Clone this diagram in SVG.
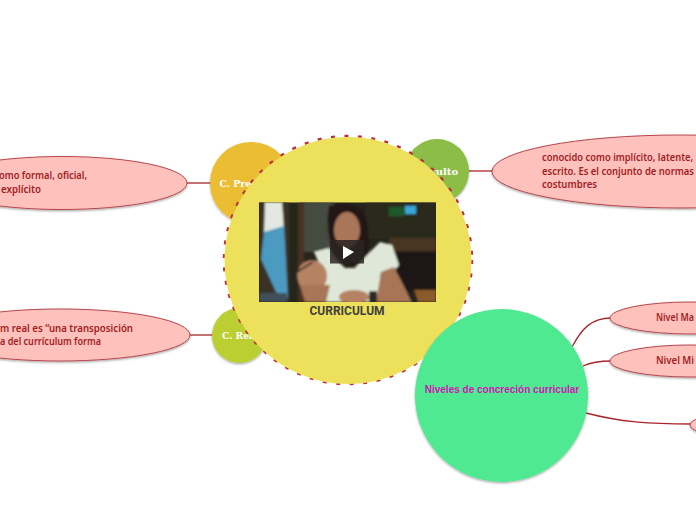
<svg xmlns="http://www.w3.org/2000/svg" width="696" height="520" viewBox="0 0 696 520">
<style>
.c{fill:none;stroke:#a9262b;stroke-width:1.3}
.e{fill:#ffc1bb;stroke:#b8474d;stroke-width:1;filter:url(#s)}
.t{font-family:"Noto Sans","Open Sans",sans-serif;font-weight:600;font-size:10px;fill:#a11d25}
.w{font-family:"DejaVu Serif","Liberation Serif",serif;font-weight:700;font-size:10px;fill:#fff}
</style>
<defs>
<filter id="s" x="-10%" y="-20%" width="120%" height="140%"><feDropShadow dx="0" dy="1.2" stdDeviation="0.8" flood-color="#000" flood-opacity=".35"/></filter>
<filter id="b" x="-10%" y="-10%" width="120%" height="120%"><feGaussianBlur stdDeviation="0.8"/></filter>
<clipPath id="v"><rect x="259" y="202.500" width="177" height="99.500"/></clipPath>
</defs>
<rect width="696" height="520" fill="#fff"/>
<g id="connectors">
<path class="c" d="M187 183H212"/>
<path class="c" d="M467 171H493"/>
<path class="c" d="M190 335H214"/>
<path class="c" d="M572 347C582 328 592 318 611 318"/>
<path class="c" d="M583 366C592 362 600 361 611 361"/>
<path class="c" d="M586 413C620 422 650 424 691 424"/>
</g>
<g id="n-presc"><circle cx="251" cy="183" r="41" fill="#ebbd30" filter="url(#s)"/><text class="w" x="219.500" y="187" textLength="37" lengthAdjust="spacingAndGlyphs">C. Pres</text></g>
<g id="n-oculto"><circle cx="437" cy="171" r="32" fill="#8cbe46" filter="url(#s)"/><text class="w" x="421" y="175">Oculto</text></g>
<g id="n-real"><circle cx="239.500" cy="335.500" r="27.500" fill="#bccf31" filter="url(#s)"/><text class="w" x="222" y="339" textLength="33" lengthAdjust="spacingAndGlyphs">C. Rea</text></g>
<g id="e-presc"><ellipse class="e" cx="62" cy="183" rx="125" ry="26.500"/><text class="t" x="-1" y="179" textLength="88" lengthAdjust="spacingAndGlyphs">omo formal, oficial,</text><text class="t" x="1" y="193" textLength="40" lengthAdjust="spacingAndGlyphs">explícito</text></g>
<g id="e-oculto"><ellipse class="e" cx="680" cy="171.500" rx="188" ry="36.500"/><text class="t" x="542" y="161" textLength="151" lengthAdjust="spacingAndGlyphs">conocido como implícito, latente,</text><text class="t" x="542" y="175" textLength="152" lengthAdjust="spacingAndGlyphs">escrito. Es el conjunto de normas</text><text class="t" x="542" y="188" textLength="55" lengthAdjust="spacingAndGlyphs">costumbres</text></g>
<g id="e-real"><ellipse class="e" cx="60" cy="335" rx="130" ry="26"/><text class="t" x="0" y="332" textLength="133" lengthAdjust="spacingAndGlyphs">m real es “una transposición</text><text class="t" x="0" y="345" textLength="101" lengthAdjust="spacingAndGlyphs">a del currículum forma</text></g>
<g id="e-macro"><ellipse class="e" cx="690" cy="318" rx="80" ry="16"/><text class="t" x="656" y="321" textLength="38" lengthAdjust="spacingAndGlyphs">Nivel Ma</text></g>
<g id="e-micro"><ellipse class="e" cx="690" cy="361" rx="80" ry="16"/><text class="t" x="656" y="364" textLength="38" lengthAdjust="spacingAndGlyphs">Nivel Mi</text></g>
<g id="e-third"><ellipse class="e" cx="710" cy="425" rx="20" ry="8"/></g>
<g id="n-center">
<circle cx="348" cy="260" r="124" fill="none" stroke="#b8303c" stroke-width="2.500" stroke-dasharray="4 9.500"/>
<circle cx="348" cy="260.500" r="123.500" fill="#ede05a"/>
<g clip-path="url(#v)">
<rect x="259" y="202" width="177" height="100" fill="#26251c"/>
<g filter="url(#b)">
<rect x="259" y="202" width="30" height="100" fill="#3b3126"/>
<rect x="298" y="202" width="6" height="100" fill="#4a3322"/>
<rect x="304" y="202" width="30" height="50" fill="#454b40"/>
<rect x="366" y="202" width="70" height="36" fill="#2c2a1e"/>
<rect x="389" y="238" width="47" height="13" fill="#4a3524"/>
<rect x="389" y="252" width="47" height="40" fill="#1d1812"/>
<rect x="389" y="207" width="15" height="9" fill="#1f5a2c"/>
<path d="M265 202H282L284 230L264 234Z" fill="#e4e8e2"/>
<path d="M264 232L284 226L288 298L276 292L261 259Z" fill="#4c9ac0"/>
<path d="M329 206C340 201 358 203 365 214C370 228 368 245 371 259L362 269L335 258C328 240 326 220 329 206Z" fill="#241613"/>
<ellipse cx="347" cy="230" rx="13" ry="18" fill="#a9765a"/>
<path d="M314 252L329 248L335 258L345 268H355L372 250L380 242L392 245L399 265L390 275L381 272L378 302H325L322 270Z" fill="#dfe8d8"/>
<path d="M381 272L394 267L412 302H376Z" fill="#a87456"/>
<ellipse cx="312" cy="276" rx="15" ry="16" fill="#b58263"/>
<path d="M300 285H330L326 302H305Z" fill="#a87456"/>
<ellipse cx="354" cy="297" rx="15" ry="7" fill="#b58263"/>
<rect x="369" y="291" width="8" height="11" fill="#2a2a28"/>
<path d="M292 275L313 262" stroke="#222" stroke-width="1.500"/>
<rect x="259" y="293" width="28" height="9" fill="#40505a"/>
<rect x="405" y="206" width="11" height="8" fill="#3ba6d8"/>
<path d="M414 290H436V302H418Z" fill="#8a5a2b"/>
</g>
<rect x="330" y="240" width="34" height="23.500" fill="#2a2422" opacity=".85"/>
<path d="M343 246L354 252L343 259Z" fill="#fff"/>
</g>
<text x="347" y="315" text-anchor="middle" font-family="Roboto,sans-serif" font-weight="700" font-size="12px" fill="#3f3f3f">CURRICULUM</text>
</g>
<g id="n-niveles"><circle cx="501.500" cy="395.500" r="86.500" fill="#50e991" filter="url(#s)"/><text x="502" y="393" text-anchor="middle" font-family="Liberation Sans,sans-serif" font-weight="700" font-size="10px" fill="#d014b8">Niveles de concreción curricular</text></g>
</svg>
